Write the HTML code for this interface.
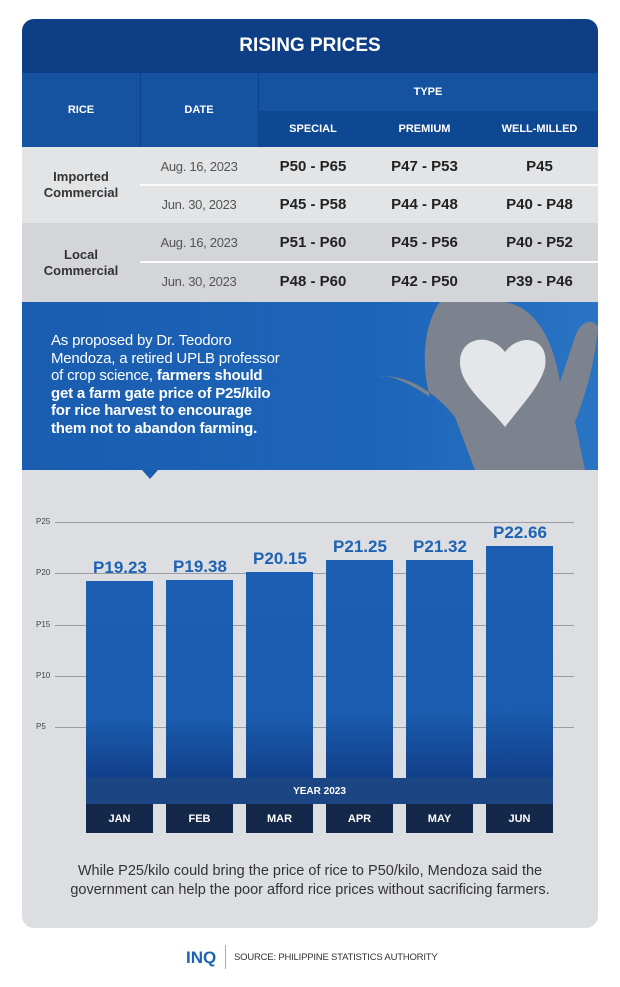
<!DOCTYPE html>
<html><head><meta charset="utf-8"><style>
*{margin:0;padding:0;box-sizing:border-box}
body{width:620px;height:987px;background:#fff;position:relative;font-family:"Liberation Sans",sans-serif;overflow:hidden}
.a{position:absolute}
.c{display:flex;align-items:center;justify-content:center;text-align:center}
.h{color:#fff;font-weight:bold;font-size:11px}
.d{color:#555;font-size:13px;letter-spacing:-0.3px}
.v{color:#222;font-weight:bold;font-size:15px}
.r{color:#333;font-weight:bold;font-size:13px;line-height:16px}
.g{position:absolute;left:55px;width:519px;height:1px;background:#9a9ca0}
.yl{position:absolute;left:36px;font-size:8px;color:#444;width:20px}
.bar{position:absolute;width:67px;bottom:209px;background:linear-gradient(#1c5fb2 0%,#1a5cae 70%,#123f8a 100%)}
.val{position:absolute;width:90px;text-align:center;color:#1e62b4;font-weight:bold;font-size:17px}
.m{position:absolute;top:804px;height:29px;width:67px;background:#14284a;color:#fff;font-weight:bold;font-size:11px;display:flex;align-items:center;justify-content:center}
</style></head><body>
<div class="a" style="left:22px;top:19px;width:576px;height:909px;border-radius:12px;background:#dcdee1;overflow:hidden">
 <div class="a c" style="left:0;top:0;width:576px;height:54px;background:#0e3f86;color:#fff;font-weight:bold;font-size:19px">RISING PRICES</div>
 <div class="a" style="left:0;top:54px;width:576px;height:74px;background:#1553a0"></div>
 <div class="a" style="left:236px;top:92px;width:340px;height:36px;background:#0f4892"></div>
 <div class="a" style="left:118px;top:54px;width:1px;height:74px;background:#0e4288"></div>
 <div class="a" style="left:236px;top:54px;width:1px;height:74px;background:#0e4288"></div>
 <div class="a c h" style="left:0;top:54px;width:118px;height:74px">RICE</div>
 <div class="a c h" style="left:118px;top:54px;width:118px;height:74px">DATE</div>
 <div class="a c h" style="left:236px;top:54px;width:340px;height:38px">TYPE</div>
 <div class="a c h" style="left:236px;top:92px;width:110px;height:36px">SPECIAL</div>
 <div class="a c h" style="left:346px;top:92px;width:113px;height:36px">PREMIUM</div>
 <div class="a c h" style="left:459px;top:92px;width:117px;height:36px">WELL-MILLED</div>
 <div class="a" style="left:0;top:128px;width:576px;height:76px;background:#e3e4e6"></div>
 <div class="a" style="left:0;top:204px;width:576px;height:79px;background:#d4d5d8"></div>
 <div class="a" style="left:118px;top:165px;width:458px;height:2px;background:#fafafa"></div>
 <div class="a" style="left:118px;top:242px;width:458px;height:2px;background:#fafafa"></div>
 <div class="a c r" style="left:0;top:128px;width:118px;height:76px">Imported<br>Commercial</div>
 <div class="a c r" style="left:0;top:204px;width:118px;height:79px">Local<br>Commercial</div>
 <div class="a c d" style="left:118px;top:128px;width:118px;height:38px">Aug. 16, 2023</div>
 <div class="a c d" style="left:118px;top:166px;width:118px;height:38px">Jun. 30, 2023</div>
 <div class="a c d" style="left:118px;top:204px;width:118px;height:38px">Aug. 16, 2023</div>
 <div class="a c d" style="left:118px;top:242px;width:118px;height:41px">Jun. 30, 2023</div>
 <div class="a c v" style="left:236px;top:128px;width:110px;height:38px">P50 - P65</div>
 <div class="a c v" style="left:346px;top:128px;width:113px;height:38px">P47 - P53</div>
 <div class="a c v" style="left:459px;top:128px;width:117px;height:38px">P45</div>
 <div class="a c v" style="left:236px;top:166px;width:110px;height:38px">P45 - P58</div>
 <div class="a c v" style="left:346px;top:166px;width:113px;height:38px">P44 - P48</div>
 <div class="a c v" style="left:459px;top:166px;width:117px;height:38px">P40 - P48</div>
 <div class="a c v" style="left:236px;top:204px;width:110px;height:38px">P51 - P60</div>
 <div class="a c v" style="left:346px;top:204px;width:113px;height:38px">P45 - P56</div>
 <div class="a c v" style="left:459px;top:204px;width:117px;height:38px">P40 - P52</div>
 <div class="a c v" style="left:236px;top:242px;width:110px;height:41px">P48 - P60</div>
 <div class="a c v" style="left:346px;top:242px;width:113px;height:41px">P42 - P50</div>
 <div class="a c v" style="left:459px;top:242px;width:117px;height:41px">P39 - P46</div>
 <div class="a" style="left:0;top:283px;width:576px;height:168px;background:linear-gradient(90deg,#1a5db0,#1c64b8 60%,#2a74c4)"></div>
 <svg class="a" style="left:358px;top:283px" width="218" height="168" viewBox="0 0 218 168">
  <path d="M-5,75 C25,70 55,90 75,115 L95,168 L205,168 L195,120 C205,95 215,60 218,25 C212,15 200,20 195,35 L180,80 C175,50 165,20 140,5 C120,-5 80,-5 60,0 C45,20 40,60 50,95 C35,85 10,70 -5,75Z" fill="#7c838e"/>
  <path d="M80,60 C80,35 110,30 125,50 C140,30 170,35 165,65 C160,85 140,105 125,125 C110,105 80,85 80,60Z" fill="#e4e6ea"/>
 </svg>
 <div class="a" style="left:29px;top:313px;width:280px;color:#fff;font-size:15px;line-height:17.5px;letter-spacing:-0.2px;white-space:nowrap">As proposed by Dr. Teodoro<br>Mendoza, a retired UPLB professor<br>of crop science, <b>farmers should<br>get a farm gate price of P25/kilo<br>for rice harvest to encourage<br>them not to abandon farming.</b></div>
 <div class="a" style="left:120px;top:451px;width:0;height:0;border-left:8px solid transparent;border-right:8px solid transparent;border-top:9px solid #1a5db0"></div>
</div>
<div class="g" style="top:522px"></div><div class="g" style="top:573px"></div><div class="g" style="top:625px"></div><div class="g" style="top:676px"></div><div class="g" style="top:727px"></div>
<div class="yl" style="top:517px">P25</div><div class="yl" style="top:568px">P20</div><div class="yl" style="top:620px">P15</div><div class="yl" style="top:671px">P10</div><div class="yl" style="top:722px">P5</div>
<div class="bar" style="left:86px;height:197px"></div>
<div class="bar" style="left:166px;height:198px"></div>
<div class="bar" style="left:246px;height:206px"></div>
<div class="bar" style="left:326px;height:218px"></div>
<div class="bar" style="left:406px;height:218px"></div>
<div class="bar" style="left:486px;height:232px"></div>
<div class="val" style="left:75px;top:558px">P19.23</div>
<div class="val" style="left:155px;top:557px">P19.38</div>
<div class="val" style="left:235px;top:549px">P20.15</div>
<div class="val" style="left:315px;top:537px">P21.25</div>
<div class="val" style="left:395px;top:537px">P21.32</div>
<div class="val" style="left:475px;top:523px">P22.66</div>
<div class="a c" style="left:86px;top:778px;width:467px;height:26px;background:#1c4584;color:#fff;font-weight:bold;font-size:10px">YEAR 2023</div>
<div class="m" style="left:86px">JAN</div><div class="m" style="left:166px">FEB</div><div class="m" style="left:246px">MAR</div><div class="m" style="left:326px">APR</div><div class="m" style="left:406px">MAY</div><div class="m" style="left:486px">JUN</div>
<div class="a" style="left:22px;top:862px;width:576px;text-align:center;color:#333;font-size:14.5px;line-height:19px">While P25/kilo could bring the price of rice to P50/kilo, Mendoza said the<br>government can help the poor afford rice prices without sacrificing farmers.</div>
<div class="a" style="left:186px;top:948px;color:#1e62b4;font-size:17px;font-weight:bold">INQ</div>
<div class="a" style="left:225px;top:945px;width:1px;height:24px;background:#aaa"></div>
<div class="a" style="left:234px;top:952px;color:#333;font-size:9.5px;letter-spacing:-0.2px">SOURCE: PHILIPPINE STATISTICS AUTHORITY</div>
</body></html>
